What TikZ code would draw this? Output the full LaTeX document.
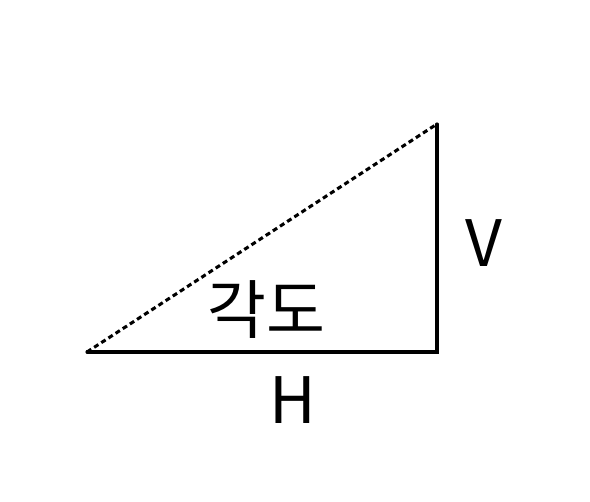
\documentclass[tikz,border=0pt]{standalone}
\usepackage{fontspec}
\setmainfont{Noto Sans CJK KR}
\begin{document}
\begin{tikzpicture}[x=0.75pt,y=-0.75pt,
  side/.style={line width=2.3pt,line cap=round,black},
  hyp/.style={line width=2.3pt,dash pattern=on 3.8pt off 2.6pt,black},
  lbl/.style={inner sep=0pt,font=\fontsize{48}{48}\selectfont}]
\useasboundingbox (0,0) rectangle (590,502);
\coordinate (A) at (87,352);
\coordinate (B) at (437,352);
\coordinate (C) at (437,124);
\draw[side] (A) -- (B) -- (C);
\draw[hyp] (A) -- (C);
\node[lbl] (v) at (484,243) {V};
\node[lbl] (ang) at (266.5,310) {각도};
\node[lbl] (h) at (293,400) {H};
\end{tikzpicture}
\end{document}
